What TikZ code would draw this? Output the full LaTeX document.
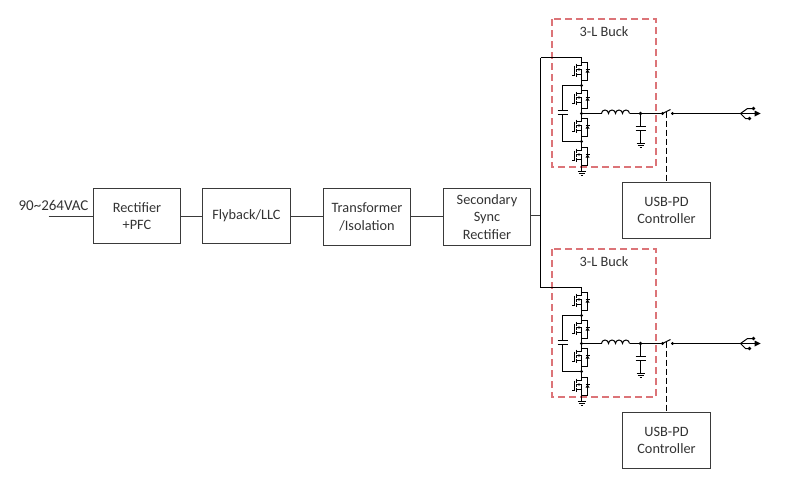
\documentclass[tikz,border=0pt]{standalone}
\usepackage{fontspec}
\setmainfont{Carlito}
\usetikzlibrary{arrows.meta}
\definecolor{ln}{HTML}{3A3A3A}
\definecolor{txt}{HTML}{333333}
\definecolor{redd}{HTML}{DC7478}
\tikzset{
 block/.style={draw=ln,line width=1pt,fill=white,align=center,font=\fontsize{14.3}{17.4}\selectfont,inner sep=0pt,text=txt},
 wire/.style={draw=black,line width=1pt},
 thin wire/.style={draw=ln,line width=1pt},
 lbl/.style={font=\fontsize{14.3}{17}\selectfont,text=txt,inner sep=0pt},
 dashbox/.style={draw=redd,line width=2pt,dash pattern=on 7pt off 4pt},
 ctl/.style={draw=black,line width=1pt,dash pattern=on 6pt off 3pt},
}
\newcommand{\fet}[2]{% drain x, top y
 \begin{scope}[shift={(#1,#2)}]
  \draw[line width=1pt] (0,0)--(0,8)--(-5,8) (0,5)--(6,5)--(6,23)--(0,23) (0,12)--(-5,12) (0,12)--(0,28) (0,17)--(-5,17);
  \draw[line width=1pt] (-5,6)--(-5,10) (-5,11)--(-5,14) (-5,15)--(-5,19);
  \draw[line width=1pt] (-7,8)--(-7,18)--(-10,18);
  \fill (-1,12)--(-3,10.5)--(-3,13.5)--cycle;
  \fill (6,12)--(4,15)--(8,15)--cycle;
  \draw[line width=1pt] (4,12)--(8,12);
 \end{scope}}
\newcommand{\gnd}[2]{%
 \draw[line width=1pt] (#1-4,#2)--(#1+4,#2) (#1-3,#2+2)--(#1+3,#2+2) (#1-1,#2+4)--(#1+1,#2+4);}
\newcommand{\stage}[2]{% y offset, name
 \begin{scope}[shift={(0,#1)}]
  \draw[dashbox] (552,19) rectangle (656,167);
  \node[lbl] (#2t) at (604,32) {3-L Buck};
  \fet{581.5}{57.5}\fet{581.5}{85.5}\fet{581.5}{113.5}\fet{581.5}{142.5}
  \draw[wire] (540.5,57.5)--(581.5,57.5);
  \draw[wire] (581.5,170.5)--(581.5,171.5);
  \gnd{581.5}{171.5}
  \fill (581.5,85.5) circle (1.6) (581.5,141.5) circle (1.6);
  % flying cap
  \draw[wire] (581.5,85.5)--(562.5,85.5)--(562.5,110.5) (562.5,114.5)--(562.5,141.5)--(581.5,141.5);
  \draw[line width=1pt] (557.5,110.5)--(567.5,110.5) (557.5,114.5)--(567.5,114.5);
  % output
  \draw[wire] (581.5,113.5)--(601.5,113.5);
  \fill (581.5,113.5) circle (1.7);
  \draw[wire] (601.5,113.5) arc (180:360:3.5) arc (180:360:3.5) arc (180:360:3.5) arc (180:360:3.5);
  \draw[wire] (629.5,113.5)--(662.5,113.5);
  \fill (640.5,113.5) circle (1.8);
  \draw[wire] (640.5,113.5)--(640.5,126.5) (640.5,130.5)--(640.5,143.5);
  \draw[line width=1pt] (635.5,126.5)--(645.5,126.5) (635.5,130.5)--(645.5,130.5);
  \gnd{640.5}{143.5}
  % switch
  \fill (662.5,113.5) circle (1.7) (672.5,113.5) circle (1.7);
  \draw[line width=1pt] (662.5,113.5)--(670.5,109.5);
  % usb
  \draw[wire] (672.5,113.5)--(755.5,113.5);
  \draw[line width=1pt] (740.5,113.5)--(747.5,108.5)--(753.5,108.5) (740.5,113.5)--(745.5,118.5)--(749.5,118.5);
  \fill (753.5,108.5) circle (1.8) (749.5,118.5) circle (1.8);
  \fill (760.5,113.5)--(754.5,110.5)--(754.5,116.5)--cycle;
 \end{scope}}
\begin{document}
\begin{tikzpicture}[x=1pt,y=-1pt]
\useasboundingbox (0,0) rectangle (790,479);
\fill[white] (0,0) rectangle (790,479);
\coordinate (in) at (48.5,216.5);
\node[lbl,font=\fontsize{15}{17}\selectfont] (vac) at (53.5,205.5) {90\textasciitilde264VAC};
\node[block,minimum width=87pt,minimum height=55pt] (r) at (137,216) {Rectifier\\+PFC};
\node[block,minimum width=88pt,minimum height=55pt] (f) at (246.5,216) {Flyback/LLC};
\node[block,minimum width=87pt,minimum height=57pt] (t) at (367,217) {Transformer\\/Isolation};
\node[block,minimum width=87pt,minimum height=57pt] (s) at (487,217) {Secondary\\Sync\\Rectifier};
\draw[thin wire] (in)--(r.west|-in) (r.east|-in)--(f.west|-in) (f.east|-in)--(t.west|-in) (t.east|-in)--(s.west|-in);
\coordinate (bus) at (540.5,215.5);
\draw[thin wire] (s.east|-bus)--(bus);
\draw[wire] (540.5,57.5)--(540.5,287.5);
\stage{0}{a}
\stage{230}{b}
\node[block,minimum width=88pt,minimum height=56pt] (c1) at (666.5,210.5) {USB-PD\\Controller};
\node[block,minimum width=88pt,minimum height=56pt] (c2) at (666.5,440.5) {USB-PD\\Controller};
\coordinate (k1) at (666.5,111.5);
\coordinate (k2) at (666.5,341.5);
\draw[ctl] (k1)--(c1.north);
\draw[ctl] (k2)--(c2.north);
\end{tikzpicture}
\end{document}
